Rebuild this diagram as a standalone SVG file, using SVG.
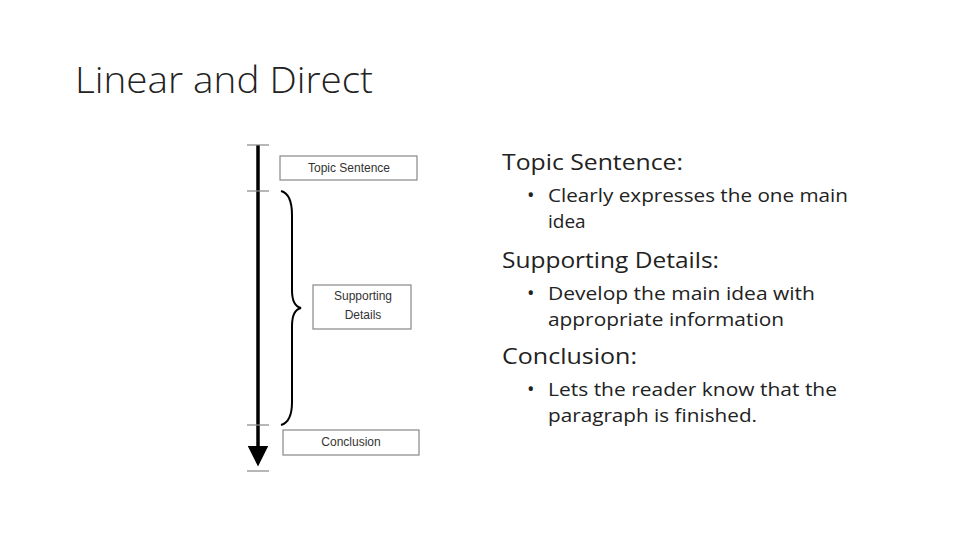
<svg xmlns="http://www.w3.org/2000/svg" width="960" height="540" viewBox="0 0 960 540">
<style>
.t{font-family:"Open Sans","Noto Sans",sans-serif;fill:#222}
.b{fill:#fff;stroke:#888;stroke-width:1.2}
.bl{font-family:"Liberation Sans",sans-serif;font-size:12px;fill:#333;text-anchor:middle}
.tk{stroke:#888;stroke-width:1.2}
</style>
<defs><marker id="ah" markerWidth="6" markerHeight="6" refX="5" refY="3" orient="auto" markerUnits="strokeWidth"><path d="M0,0 L6,3 L0,6 Z" fill="#000"/></marker></defs>
<rect width="960" height="540" fill="#fff"/>
<text class="t" x="75" y="93" font-size="36" font-weight="300" textLength="298" lengthAdjust="spacingAndGlyphs">Linear and Direct</text>
<g id="connectors">
<line x1="258" y1="145" x2="258" y2="463" stroke="#000" stroke-width="3.5" marker-end="url(#ah)"/>
<line class="tk" x1="247" y1="145" x2="269" y2="145"/>
<line class="tk" x1="247" y1="191" x2="269" y2="191"/>
<line class="tk" x1="247" y1="425" x2="269" y2="425"/>
<line class="tk" x1="247" y1="471" x2="269" y2="471"/>
<path d="M281,191 Q292,194 292,215 L292,290 Q292,306 301,308 Q292,310 292,326 L292,402 Q292,422 281,425" fill="none" stroke="#000" stroke-width="2"/>
</g>
<g id="topic"><rect class="b" x="280" y="156" width="137" height="24"/><text class="bl" x="349" y="172">Topic Sentence</text></g>
<g id="support"><rect class="b" x="313" y="285" width="98" height="44"/><text class="bl" x="363" y="300">Supporting</text><text class="bl" x="363" y="319">Details</text></g>
<g id="conclusion"><rect class="b" x="283" y="430" width="136" height="25"/><text class="bl" x="351" y="446">Conclusion</text></g>
<g id="text" class="t">
<text x="502" y="170" font-size="22" textLength="181" lengthAdjust="spacingAndGlyphs">Topic Sentence:</text>
<text x="527" y="202" font-size="20">•</text>
<text x="548" y="202" font-size="19" textLength="300" lengthAdjust="spacingAndGlyphs">Clearly expresses the one main</text>
<text x="548" y="228" font-size="19">idea</text>
<text x="502" y="268" font-size="22" textLength="217" lengthAdjust="spacingAndGlyphs">Supporting Details:</text>
<text x="527" y="300" font-size="20">•</text>
<text x="548" y="300" font-size="19" textLength="267" lengthAdjust="spacingAndGlyphs">Develop the main idea with</text>
<text x="548" y="326" font-size="19" textLength="236" lengthAdjust="spacingAndGlyphs">appropriate information</text>
<text x="502" y="364" font-size="22" textLength="135" lengthAdjust="spacingAndGlyphs">Conclusion:</text>
<text x="527" y="396" font-size="20">•</text>
<text x="548" y="396" font-size="19" textLength="289" lengthAdjust="spacingAndGlyphs">Lets the reader know that the</text>
<text x="548" y="422" font-size="19" textLength="209" lengthAdjust="spacingAndGlyphs">paragraph is finished.</text>
</g>
</svg>
